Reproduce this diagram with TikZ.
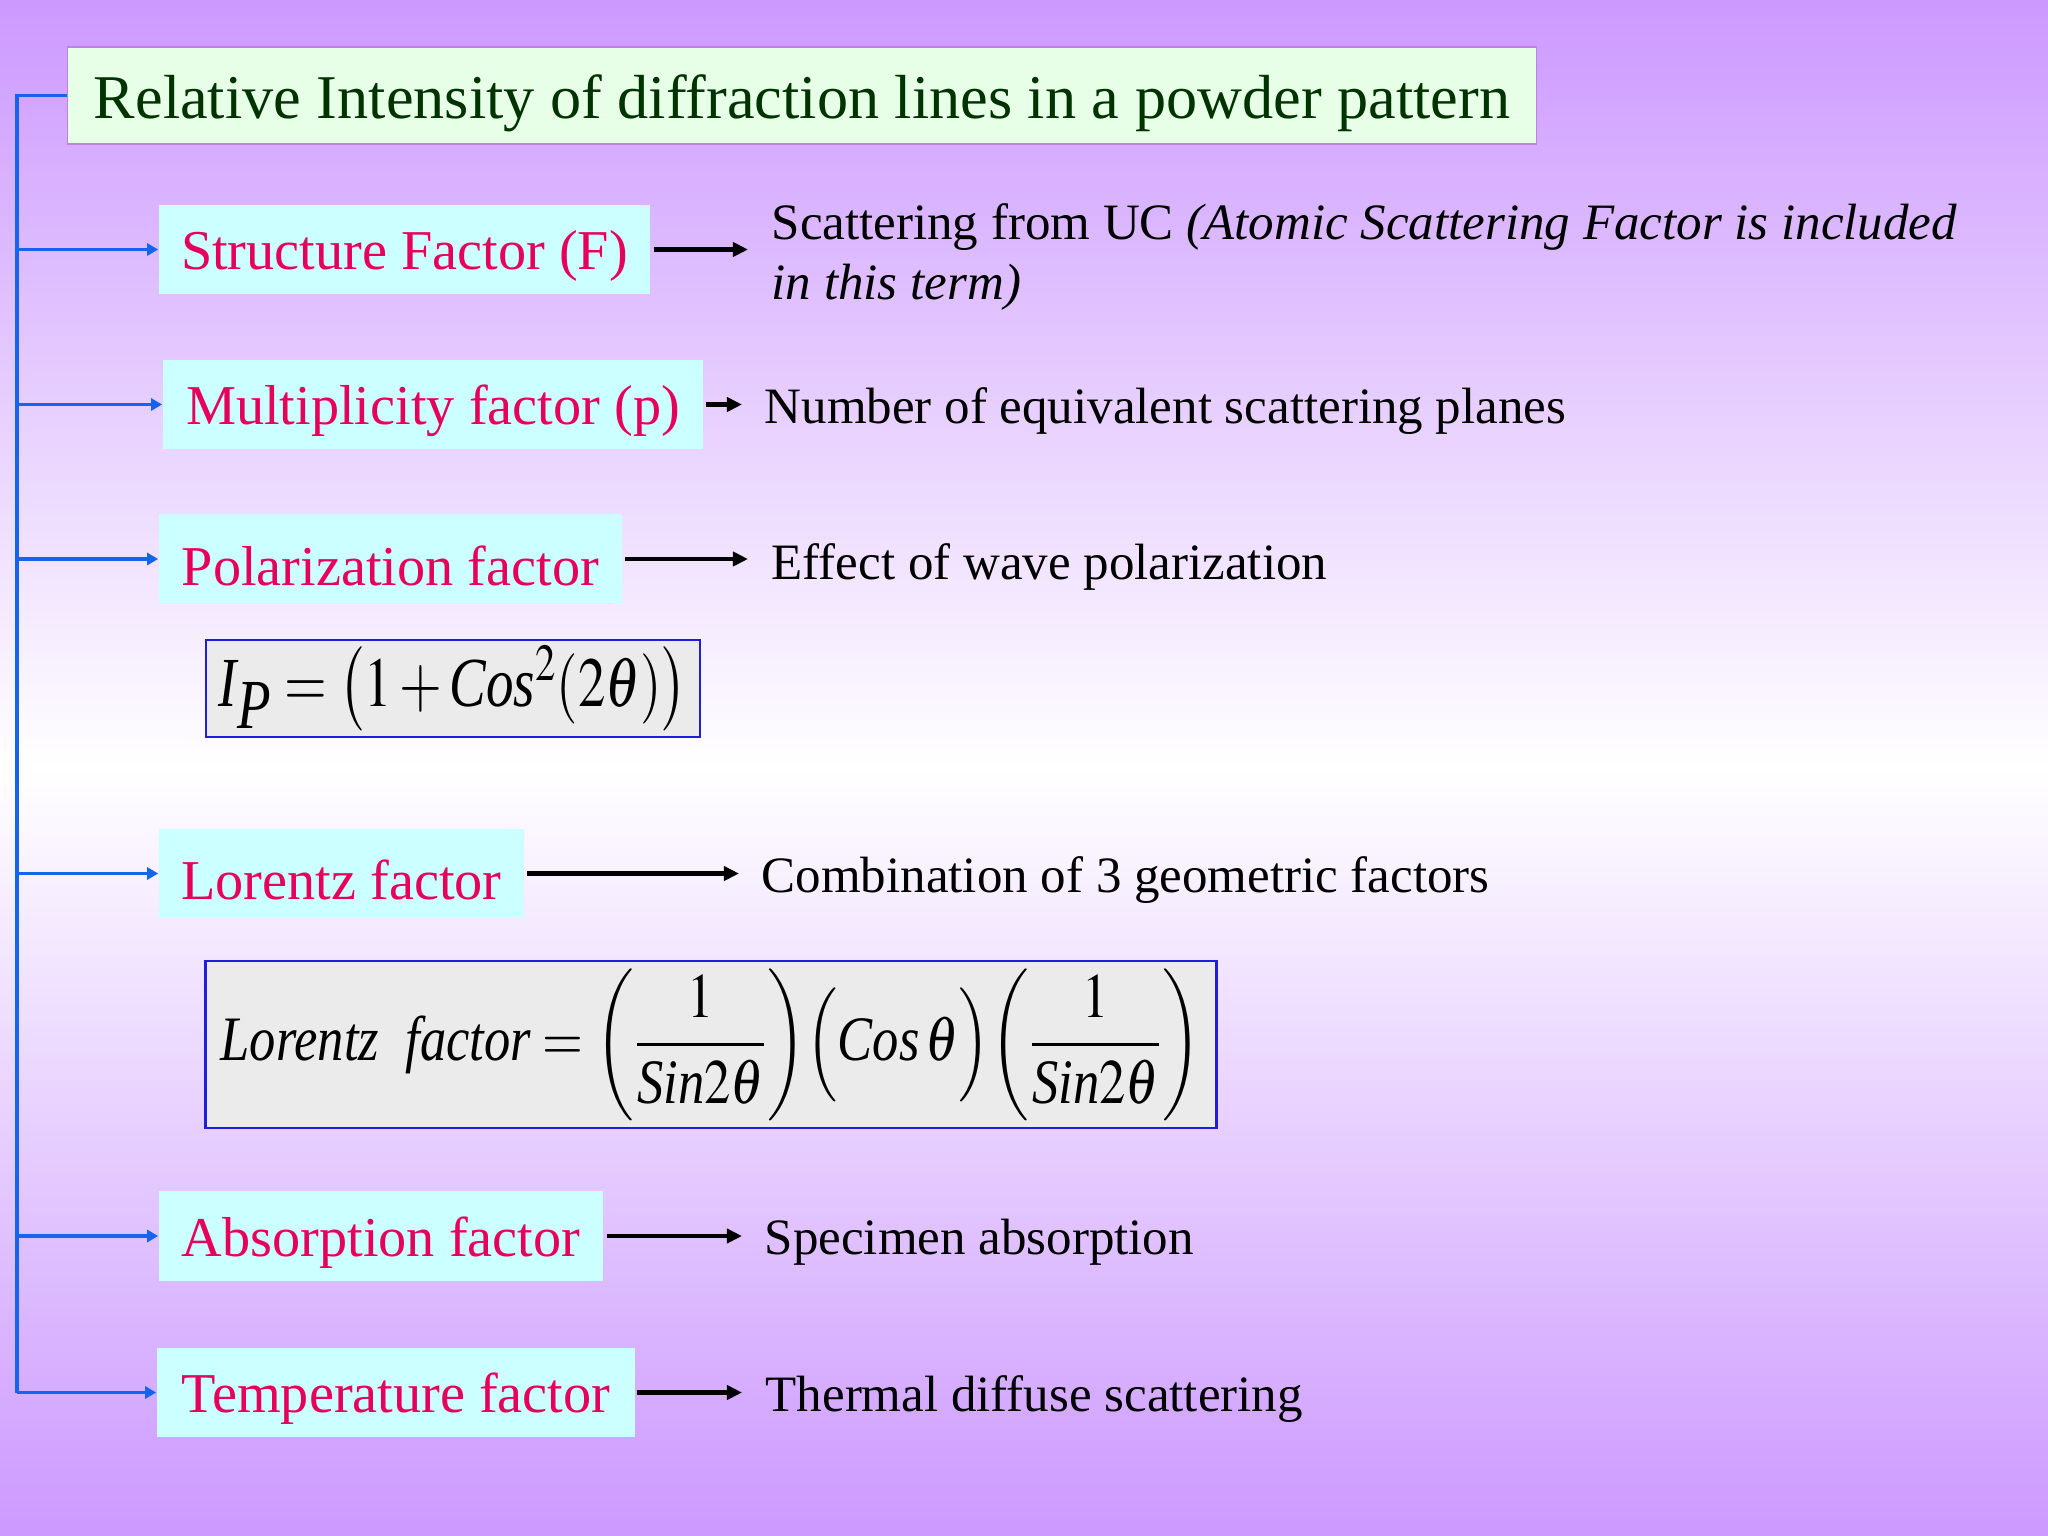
\documentclass[tikz,border=0pt]{standalone}
\usepackage{mathptmx}
\usepackage{fontspec}
\setmainfont{Liberation Serif}
\usetikzlibrary{arrows.meta}
\definecolor{bgpurple}{RGB}{204,153,255}
\definecolor{boxcyan}{RGB}{204,255,255}
\definecolor{labelred}{RGB}{230,0,92}
\definecolor{titlegreen}{RGB}{0,51,0}
\definecolor{titlefill}{RGB}{230,255,230}
\definecolor{titleborder}{RGB}{190,130,230}
\definecolor{trunkblue}{RGB}{20,100,240}
\definecolor{eqfill}{RGB}{235,235,235}
\definecolor{eqborder}{RGB}{30,30,220}
\newcommand{\lowered}[2]{\raisebox{-#1}[\height][\depth]{#2}}
\begin{document}
\begin{tikzpicture}[x=0.01cm,y=-0.01cm,
 factorbox/.style={fill=boxcyan, text=labelred, font=\fontsize{16}{19}\selectfont, minimum height=0.89cm, inner sep=0pt},
 desc/.style={anchor=west, inner sep=0pt, font=\fontsize{14.5}{16.8}\selectfont, align=left},
 eqbox/.style={draw=eqborder, fill=eqfill, line width=0.7pt, inner sep=0pt},
 branch/.style={draw=trunkblue, line width=1pt, -{Triangle[length=0.11cm,width=0.12cm]}},
 result/.style={draw=black, line width=1.3pt, -{Triangle[length=0.15cm,width=0.14cm]}},
]
\useasboundingbox (0,0) rectangle (2048,1536);
\shade[top color=bgpurple, bottom color=bgpurple, middle color=white] (0,0) rectangle (2048,1536);

% title
\node[draw=titleborder, fill=titlefill, text=titlegreen, minimum width=14.68cm, minimum height=0.97cm, inner sep=0pt, font=\fontsize{17.7}{20}\selectfont] (title) at (802,95.5) {\lowered{0.08cm}{Relative Intensity of diffraction lines in a powder pattern}};

% factor boxes
\node[factorbox, minimum width=4.91cm] (b1) at (404.5,249.5) {\lowered{0.065cm}{Structure Factor (F)}};
\node[factorbox, minimum width=5.40cm] (b2) at (433,404.5) {\lowered{0.065cm}{Multiplicity factor (p)}};
\node[factorbox, minimum width=4.63cm] (b3) at (390.5,559) {\lowered{0.065cm}{Polarization factor}};
\node[factorbox, minimum width=3.65cm] (b4) at (341.5,873.5) {\lowered{0.065cm}{Lorentz factor}};
\node[factorbox, minimum width=4.44cm] (b5) at (381,1236) {\lowered{0.065cm}{Absorption factor}};
\node[factorbox, minimum width=4.78cm] (b6) at (396,1392.5) {\lowered{0.065cm}{Temperature factor}};

% descriptions
\node[desc] (d1) at (771,257) {Scattering from UC \textit{(Atomic Scattering Factor is included}\\\textit{in this term)}};
\node[desc] (d2) at (764,411) {Number of equivalent scattering planes};
\node[desc] (d3) at (771,567) {Effect of wave polarization};
\node[desc] (d4) at (761,880) {Combination of 3 geometric factors};
\node[desc] (d5) at (764,1242) {Specimen absorption};
\node[desc] (d6) at (765,1399) {Thermal diffuse scattering};

% equations
\node[eqbox, minimum width=4.94cm, minimum height=0.97cm] (eqp) at (453,688.5) {\fontsize{20}{24}\selectfont\resizebox{4.68cm}{\height}{$\textit{I}_{\textit{P}}=\big(1+\textit{Cos}^{2}(2\theta)\big)$}};
\node[eqbox, minimum width=10.10cm, minimum height=1.67cm] (eql) at (711,1044.5) {\fontsize{18}{22}\selectfont\resizebox{9.8cm}{\height}{$\displaystyle \textit{Lorentz\ \ factor}=\left(\frac{1}{\textit{Sin}2\theta}\right)\!\Big(\textit{Cos}\,\theta\Big)\!\left(\frac{1}{\textit{Sin}2\theta}\right)$}};

% trunk
\coordinate (ttop) at (17,95.5);
\coordinate (tbot) at (17,1392.5);
\draw[trunkblue, line width=1pt] (title.west) -- (ttop) -- (tbot);
\foreach \b in {b1,b2,b3,b4,b5,b6}
  \draw[branch] (ttop |- \b.west) -- (\b.west);

% result arrows
\draw[result] ([xshift=0.03cm]b1.east) -- ([xshift=-0.23cm]b1.east -| d1.west);
\draw[result] ([xshift=0.02cm]b2.east) -- ([xshift=-0.22cm]b2.east -| d2.west);
\draw[result] ([xshift=0.02cm]b3.east) -- ([xshift=-0.23cm]b3.east -| d3.west);
\draw[result] ([xshift=0.02cm]b4.east) -- ([xshift=-0.22cm]b4.east -| d4.west);
\draw[result] ([xshift=0.03cm]b5.east) -- ([xshift=-0.22cm]b5.east -| d5.west);
\draw[result] ([xshift=0.01cm]b6.east) -- ([xshift=-0.23cm]b6.east -| d6.west);
\end{tikzpicture}
\end{document}
